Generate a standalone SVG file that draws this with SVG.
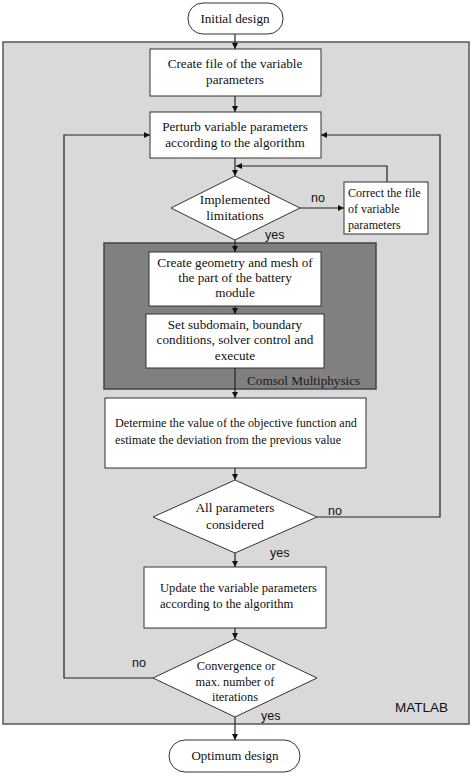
<svg xmlns="http://www.w3.org/2000/svg" width="474" height="778" viewBox="0 0 474 778">
<defs>
<marker id="ah" viewBox="0 0 10 10" refX="10" refY="5" markerWidth="6" markerHeight="6" orient="auto" markerUnits="userSpaceOnUse"><path d="M0,0 L10,5 L0,10 z" fill="#111"/></marker>
</defs>
<style>
.box{fill:#fff;stroke:#333;stroke-width:1}
.t{font-family:'Liberation Serif','DejaVu Serif',serif;font-size:13.2px;fill:#111;text-anchor:middle}
.tl{font-family:'Liberation Serif','DejaVu Serif',serif;font-size:13.2px;fill:#111}
.s{font-family:'Liberation Sans','DejaVu Sans',sans-serif;font-size:12.5px;fill:#111}
.c{fill:none;stroke:#222;stroke-width:1.2}
</style>
<rect width="474" height="778" fill="#fff"/>
<g id="matlab">
<rect x="3" y="42" width="466" height="682" fill="#d9d9d9" stroke="#555" stroke-width="1.5"/>
<text class="s" x="395" y="712" style="font-size:13.5px">MATLAB</text>
</g>
<g id="comsol">
<rect x="104" y="243" width="272" height="146" fill="#808080" stroke="#444" stroke-width="1.5"/>
<text class="tl" x="247" y="385" style="fill:#1a1a1a">Comsol Multiphysics</text>
</g>
<g id="connectors">
<line class="c" x1="235" y1="34" x2="235" y2="49" marker-end="url(#ah)"/>
<line class="c" x1="235" y1="96" x2="235" y2="112" marker-end="url(#ah)"/>
<line class="c" x1="235" y1="158" x2="235" y2="176" marker-end="url(#ah)"/>
<line class="c" x1="300" y1="208" x2="344" y2="208" marker-end="url(#ah)"/>
<polyline class="c" points="387,182 387,166 236,166" marker-end="url(#ah)"/>
<line class="c" x1="235" y1="240" x2="235" y2="252" marker-end="url(#ah)"/>
<line class="c" x1="235" y1="306" x2="235" y2="314" marker-end="url(#ah)"/>
<line class="c" x1="235" y1="368" x2="235" y2="398" marker-end="url(#ah)"/>
<line class="c" x1="235" y1="468" x2="235" y2="480" marker-end="url(#ah)"/>
<polyline class="c" points="317,517 440,517 440,135 321,135" marker-end="url(#ah)"/>
<line class="c" x1="235" y1="553" x2="235" y2="567" marker-end="url(#ah)"/>
<line class="c" x1="235" y1="628" x2="235" y2="639" marker-end="url(#ah)"/>
<polyline class="c" points="153,678 64,678 64,135 150,135" marker-end="url(#ah)"/>
<line class="c" x1="235" y1="717" x2="235" y2="740" marker-end="url(#ah)"/>
<text class="s" x="311" y="202">no</text>
<text class="s" x="265" y="239">yes</text>
<text class="s" x="328" y="515">no</text>
<text class="s" x="270" y="557">yes</text>
<text class="s" x="132" y="667">no</text>
<text class="s" x="261" y="720">yes</text>
</g>
<g id="initial">
<rect class="box" x="188" y="3" width="95" height="31" rx="15" ry="15"/>
<text class="t" x="235" y="23">Initial design</text>
</g>
<g id="create-file">
<rect class="box" x="150" y="49" width="171" height="47"/>
<text class="t" x="235" y="68">Create file of the variable</text>
<text class="t" x="235" y="84">parameters</text>
</g>
<g id="perturb">
<rect class="box" x="150" y="112" width="171" height="46"/>
<text class="t" x="235" y="131">Perturb variable parameters</text>
<text class="t" x="235" y="147">according to the algorithm</text>
</g>
<g id="implemented">
<polygon class="box" points="235,176 300,208 235,240 171,208"/>
<text class="t" x="235" y="204" style="font-size:13.4px">Implemented</text>
<text class="t" x="235" y="220" style="font-size:13.4px">limitations</text>
</g>
<g id="correct">
<rect class="box" x="344" y="182" width="84" height="52"/>
<text class="tl" x="348" y="197" style="font-size:12px">Correct the file</text>
<text class="tl" x="348" y="213" style="font-size:12px">of variable</text>
<text class="tl" x="348" y="229" style="font-size:12px">parameters</text>
</g>
<g id="geometry">
<rect class="box" x="149" y="252" width="172" height="54"/>
<text class="t" x="235" y="267">Create geometry and mesh of</text>
<text class="t" x="235" y="282">the part of the battery</text>
<text class="t" x="235" y="297">module</text>
</g>
<g id="subdomain">
<rect class="box" x="146" y="314" width="178" height="54"/>
<text class="t" x="235" y="329">Set subdomain, boundary</text>
<text class="t" x="235" y="344">conditions,  solver control and</text>
<text class="t" x="235" y="360">execute</text>
</g>
<g id="determine">
<rect class="box" x="105" y="398" width="261" height="70"/>
<text class="tl" x="115" y="427" style="font-size:12.2px">Determine the value of the objective function and</text>
<text class="tl" x="115" y="444" style="font-size:12.2px">estimate the deviation from the previous value</text>
</g>
<g id="all-params">
<polygon class="box" points="235,480 317,517 235,553 153,517"/>
<text class="t" x="235" y="512" style="font-size:13.4px">All parameters</text>
<text class="t" x="235" y="529" style="font-size:13.4px">considered</text>
</g>
<g id="update">
<rect class="box" x="144" y="567" width="182" height="61"/>
<text class="tl" x="160" y="592" style="font-size:12.6px">Update the variable parameters</text>
<text class="tl" x="160" y="608" style="font-size:12.6px">according to the algorithm</text>
</g>
<g id="convergence">
<polygon class="box" points="235,639 317,678 235,717 153,678"/>
<text class="t" x="236" y="670" style="font-size:12.4px">Convergence or</text>
<text class="t" x="235" y="686" style="font-size:12.4px">max. number of</text>
<text class="t" x="235" y="701" style="font-size:12.4px">iterations</text>
</g>
<g id="optimum">
<rect class="box" x="169" y="740" width="131" height="32" rx="16" ry="16"/>
<text class="t" x="235" y="760" style="font-size:13px">Optimum design</text>
</g>
</svg>
